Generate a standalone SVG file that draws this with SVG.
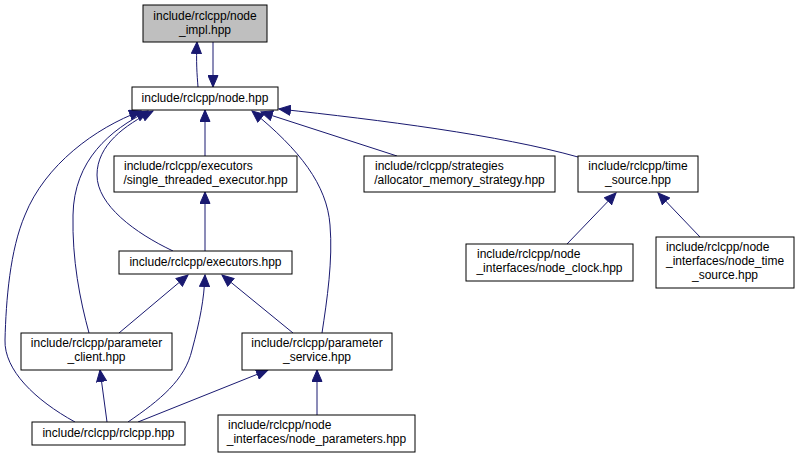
<svg xmlns="http://www.w3.org/2000/svg" width="799" height="458" viewBox="0 0 799 458">
<style>
.n rect{fill:#fff;stroke:#000;stroke-width:1}
.n text{font-family:"Liberation Sans",Arial,sans-serif;font-size:12px;fill:#000}
.c{text-anchor:middle}
.e path{fill:none;stroke:#191970;stroke-width:1;marker-end:url(#ah)}
</style>
<defs>
<marker id="ah" markerWidth="13" markerHeight="11" refX="12" refY="5.5" orient="auto" markerUnits="userSpaceOnUse"><path d="M0.5,0.5 L12,5.5 L0.5,10.5 z" fill="#191970" stroke="#191970" stroke-width="1"/></marker>
</defs>
<rect width="799" height="458" fill="#fff"/>
<g class="e" id="edges">
<path d="M198,87 C197,74 196,62 197,42"/>
<path d="M213,42 L213,87"/>
<path d="M205,156 L205,110"/>
<path d="M173,251 C135,233 97,205 97,175 C97,145 125,125 153,111"/>
<path d="M89,333 C80,300 72,260 73,215 C74,160 110,130 148,111"/>
<path d="M75,422 C35,400 4,370 5,340 C6,300 10,250 25,215 C45,165 95,128 141,111"/>
<path d="M322,333 C327,300 333,260 330,225 C327,185 300,150 252,111"/>
<path d="M397,156 L261,112"/>
<path d="M578,157 C500,135 380,120 279,109"/>
<path d="M205,251 L205,192"/>
<path d="M119,333 L188,275"/>
<path d="M128,422 C160,400 185,380 192,350 C200,320 204,300 205,275"/>
<path d="M293,333 L222,275"/>
<path d="M107,422 L100,370"/>
<path d="M138,422 L268,370"/>
<path d="M317,415 L317,370"/>
<path d="M567,244 L616,193"/>
<path d="M700,237 L658,193"/>
</g>
<g class="n" id="node_impl"><rect x="143" y="5" width="124" height="37" style="fill:#bfbfbf"/><text class="c" x="205" y="20">include/rclcpp/node</text><text class="c" x="205" y="34">_impl.hpp</text></g>
<g class="n" id="node_hpp"><rect x="132" y="87" width="146" height="23"/><text class="c" x="205" y="102">include/rclcpp/node.hpp</text></g>
<g class="n" id="single_threaded"><rect x="114" y="156" width="183" height="36"/><text x="124" y="170">include/rclcpp/executors</text><text class="c" x="205.5" y="184">/single_threaded_executor.hpp</text></g>
<g class="n" id="allocator"><rect x="364" y="156" width="191" height="36"/><text x="375" y="170">include/rclcpp/strategies</text><text class="c" x="459.5" y="184">/allocator_memory_strategy.hpp</text></g>
<g class="n" id="time_source"><rect x="578" y="156" width="120" height="36"/><text class="c" x="638" y="170">include/rclcpp/time</text><text class="c" x="638" y="184">_source.hpp</text></g>
<g class="n" id="executors"><rect x="119" y="251" width="173" height="23"/><text class="c" x="205.5" y="266">include/rclcpp/executors.hpp</text></g>
<g class="n" id="node_clock"><rect x="466" y="244" width="167" height="37"/><text x="477" y="258">include/rclcpp/node</text><text class="c" x="549.5" y="272">_interfaces/node_clock.hpp</text></g>
<g class="n" id="node_time_source"><rect x="656" y="237" width="138" height="51"/><text x="666" y="251">include/rclcpp/node</text><text x="666" y="265">_interfaces/node_time</text><text class="c" x="725" y="279">_source.hpp</text></g>
<g class="n" id="parameter_client"><rect x="21" y="333" width="151" height="37"/><text class="c" x="96.5" y="347">include/rclcpp/parameter</text><text class="c" x="96.5" y="361">_client.hpp</text></g>
<g class="n" id="parameter_service"><rect x="242" y="333" width="150" height="37"/><text class="c" x="317" y="347">include/rclcpp/parameter</text><text class="c" x="317" y="361">_service.hpp</text></g>
<g class="n" id="rclcpp_hpp"><rect x="32" y="422" width="153" height="23"/><text class="c" x="108.5" y="437">include/rclcpp/rclcpp.hpp</text></g>
<g class="n" id="node_parameters"><rect x="218" y="415" width="197" height="37"/><text x="228" y="429">include/rclcpp/node</text><text class="c" x="316.5" y="443">_interfaces/node_parameters.hpp</text></g>
</svg>
